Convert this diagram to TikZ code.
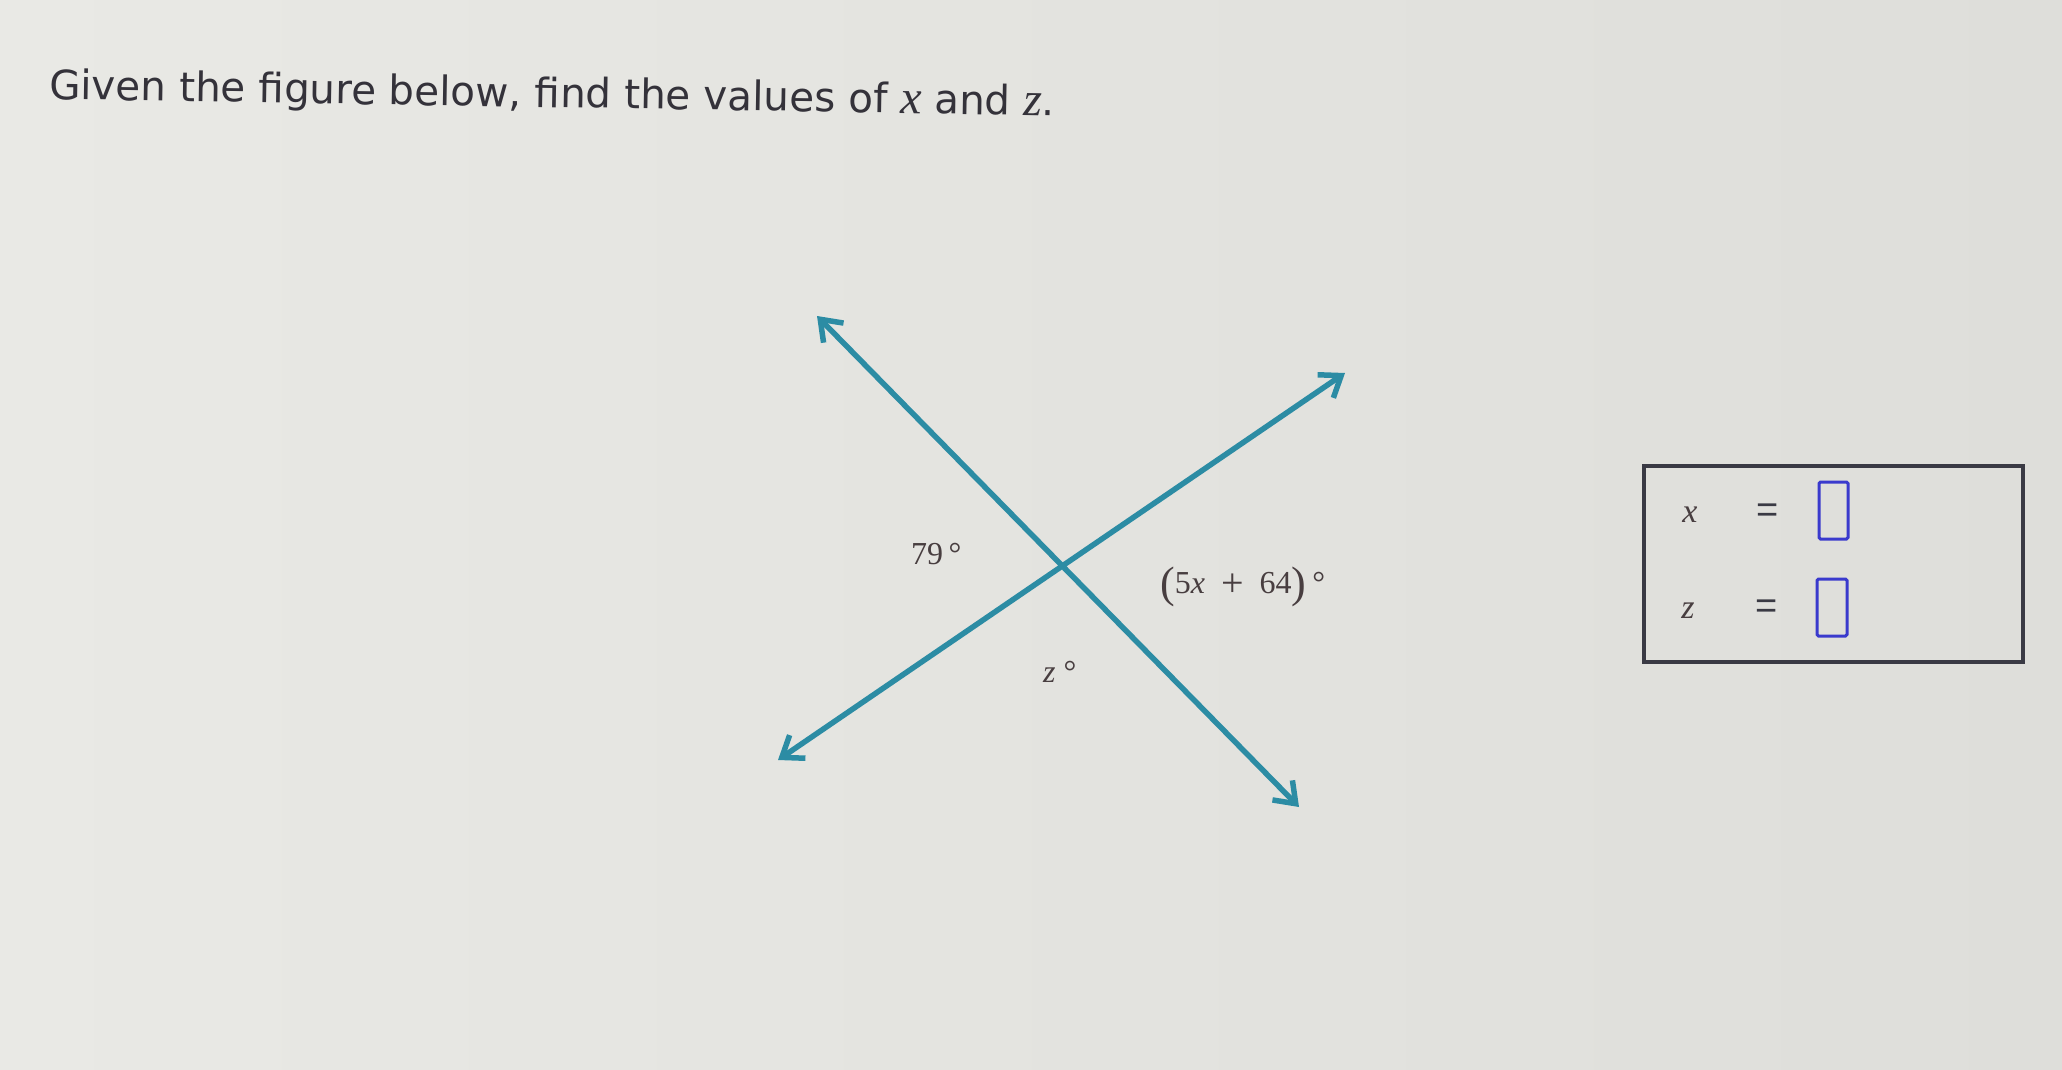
\documentclass[tikz,border=0pt]{standalone}
\usepackage{fontspec}
\usetikzlibrary{arrows.meta}
\newfontfamily\titlefont{DejaVu Sans}
\newfontfamily\lserif{Liberation Serif}
\newfontfamily\lsans{Liberation Sans}
\definecolor{bgA}{RGB}{233,233,229}
\definecolor{bgB}{RGB}{222,222,218}
\definecolor{teal}{RGB}{44,140,164}
\definecolor{labelc}{RGB}{72,62,64}
\definecolor{titlec}{RGB}{52,50,58}
\definecolor{boxc}{RGB}{58,58,68}
\definecolor{ansblue}{RGB}{58,58,205}
\begin{document}
\begin{tikzpicture}[x=1pt,y=-1pt,
  tipA/.tip={Straight Barb[length=19pt,width=28pt]},
  ray/.style={draw=teal,line width=5.5pt,tipA-tipA},
  lab/.style={inner sep=0pt,anchor=base west,text=labelc,font=\lserif\fontsize{32}{36}\selectfont},
  boxtxt/.style={inner sep=0pt,anchor=base,font=\lserif\fontsize{34}{38}\selectfont},
  eqtxt/.style={inner sep=0pt,anchor=base,text=boxc,font=\lsans\fontsize{38}{40}\selectfont},
  ansbox/.style={draw=ansblue,line width=3pt,rounded corners=1.5pt}]
\useasboundingbox (0,0) rectangle (2062,1070);
\shade[left color=bgA,right color=bgB] (0,0) rectangle (2062,1070);
% title
\node[inner sep=0pt,anchor=base west,text=titlec,rotate=-0.95,font=\titlefont\fontsize{40.5}{48}\selectfont] (title) at (49,99)
  {Given the figure below, find the values of {\lserif\itshape\fontsize{48}{48}\selectfont x} and {\lserif\itshape\fontsize{48}{48}\selectfont z}.};
% lines
\coordinate (A) at (817,316);
\coordinate (B) at (1299,807);
\coordinate (C) at (778,760);
\coordinate (D) at (1345,373);
\draw[ray] (A) -- (B);
\draw[ray] (C) -- (D);
% labels
\node[lab] (l79) at (911,564) {79\,°};
\node[lab] (lexpr) at (1160,593) {\raisebox{-4pt}{\fontsize{44}{44}\selectfont(}5\textit{x}\hspace{16pt}\raisebox{-3pt}{\fontsize{40}{40}\selectfont+}\hspace{16pt}64\raisebox{-4pt}{\fontsize{44}{44}\selectfont)}\hspace{6pt}°};
\node[lab] (lz) at (1043,682) {\textit{z} °};
% answer box
\draw[draw=boxc,line width=3.2pt] (1644,466) rectangle (2023,662);
\node[boxtxt,text=labelc] (bx) at (1690,522) {\textit{x}};
\node[eqtxt] (beq1) at (1768,522) {=};
\draw[ansbox] (1819,482) rectangle (1848,539);
\node[boxtxt,text=labelc] (bz) at (1688,618) {\textit{z}};
\node[eqtxt] (beq2) at (1767,618) {=};
\draw[ansbox] (1817,579) rectangle (1847,636);
\end{tikzpicture}
\end{document}
